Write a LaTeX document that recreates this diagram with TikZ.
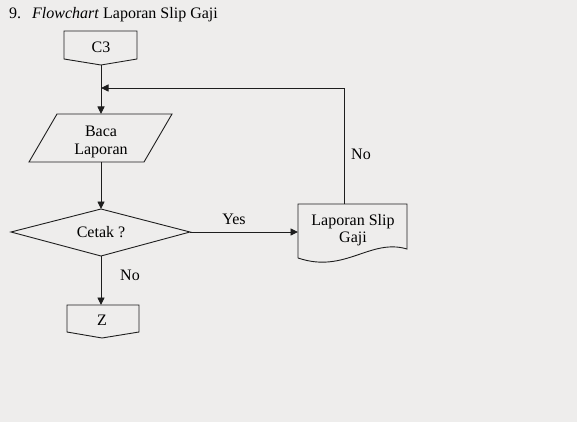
\documentclass[tikz,border=0pt]{standalone}
\usepackage{fontspec}
\setmainfont{Liberation Serif}
\usetikzlibrary{arrows.meta}
\definecolor{bg}{HTML}{EEEDEC}
\definecolor{ink}{HTML}{1E1E1E}
\begin{document}
\begin{tikzpicture}[x=1pt,y=-1pt,
  shapeline/.style={draw=ink,line width=0.9pt,line join=miter},
  conn/.style={draw=ink,line width=0.9pt},
  arr/.style={conn,-{Triangle[length=7.5pt,width=7pt]}},
  lbl/.style={inner sep=0pt,anchor=base,text=black,font=\fontsize{16}{17}\selectfont}]
\fill[bg] (0,0) rectangle (577,422);
\useasboundingbox (0,0) rectangle (577,422);
% title
\node[lbl,anchor=base west] (title) at (9,19) {9.\hskip 11pt\textit{Flowchart} Laporan Slip Gaji};
% C3 off-page connector
\path[shapeline] (64,31) -- (137,31) -- (137,59) -- (101,65) -- (64,59) -- cycle;
\node[lbl] (c3) at (101,53) {C3};
\coordinate (c3b) at (101,65);
% parallelogram
\path[shapeline] (57,114) -- (172,114) -- (144,162) -- (29,162) -- cycle;
\node[lbl] (baca1) at (101,137) {Baca};
\node[lbl] (baca2) at (101,154) {Laporan};
\coordinate (pt) at (101,114);
\coordinate (pb) at (101,162);
\coordinate (join) at (101,88);
% diamond
\path[shapeline] (101,209) -- (190,232) -- (101,256) -- (11,232) -- cycle;
\node[lbl] (cetak) at (101,237) {Cetak ?};
\coordinate (dt) at (101,209);
\coordinate (dr) at (190,232);
\coordinate (db) at (101,256);
% document
\path[shapeline] (298,258) -- (298,204) -- (407,204) -- (407,249)
  .. controls (370,238) and (345,274) .. (298,258);
\node[lbl] (doc1) at (353,225) {Laporan Slip};
\node[lbl] (doc2) at (353,242) {Gaji};
\coordinate (docl) at (298,232);
\coordinate (doct) at (344,204);
\coordinate (corner) at (344,88);
% Z connector
\path[shapeline] (67,305) -- (139,305) -- (139,332) -- (102,338) -- (67,332) -- cycle;
\node[lbl] (z) at (102,325) {Z};
\coordinate (zt) at (101,305);
% connectors
\draw[arr] (c3b) -- (pt);
\draw[arr] (pb) -- (dt);
\draw[arr] (dr) -- (docl);
\draw[arr] (doct) -- (corner) -- (join);
\draw[arr] (db) -- (zt);
% labels
\node[lbl] (yes) at (234,224) {Yes};
\node[lbl] (no1) at (130,280) {No};
\node[lbl] (no2) at (361,159) {No};
\end{tikzpicture}
\end{document}
